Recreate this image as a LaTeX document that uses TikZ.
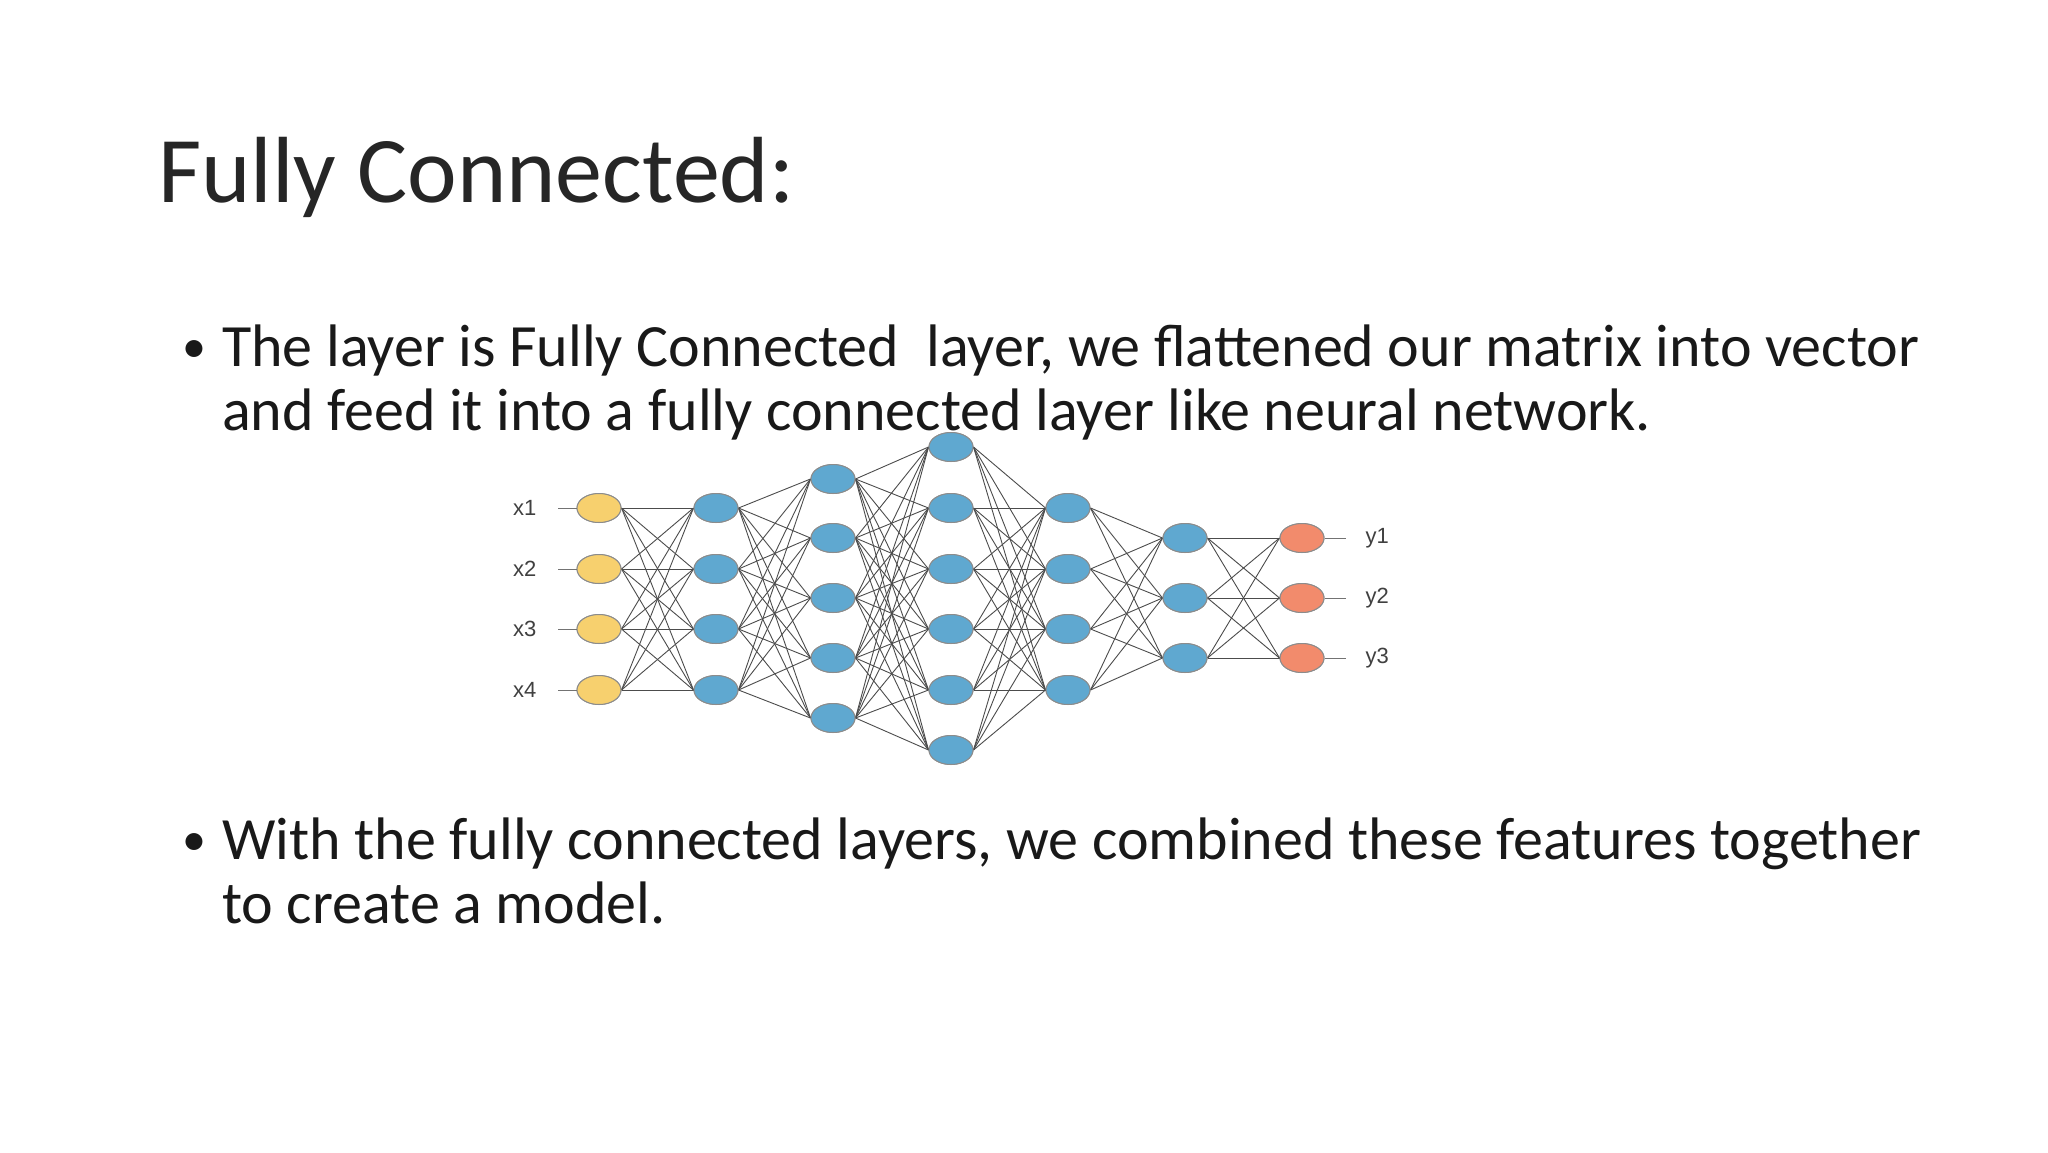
\documentclass[tikz,border=0pt]{standalone}
\usetikzlibrary{shapes.geometric}
\usepackage{fontspec}
\setmainfont{Carlito}
\newfontfamily\lbl{Liberation Sans}
\begin{document}
\begin{tikzpicture}[x=1pt,y=-1pt,
  neuron/.style={ellipse,draw=black!45,line width=1pt,minimum width=44pt,minimum height=29pt,inner sep=0pt},
  inp/.style={neuron,fill=yellowN},
  hid/.style={neuron,fill=blueN},
  outp/.style={neuron,fill=orangeN},
  edge/.style={draw=black!70,line width=0.9pt},
  lab/.style={font=\lbl\fontsize{22}{26}\selectfont,text=black!75},
  body/.style={anchor=base west,inner sep=0pt,font=\fontsize{60}{70}\selectfont,text=black!90}]
\definecolor{yellowN}{HTML}{F7D06E}
\definecolor{blueN}{HTML}{5FA8D0}
\definecolor{orangeN}{HTML}{F28B6C}
\useasboundingbox (0,0) rectangle (2048,1152);
\fill[white] (0,0) rectangle (2048,1152);
\node[anchor=base west,inner sep=0pt,font=\fontsize{94}{104}\selectfont,text=black!85] (title) at (158,202) {Fully Connected:};
\node[body,font=\fontsize{48}{60}\selectfont] (b1) at (182,362) {\textbullet};
\node[body] (t1) at (222,366) {The layer is Fully Connected\ \ layer, we flattened our matrix into vector};
\node[body] (t2) at (222,430) {and feed it into a fully connected layer like neural network.};
\node[body,font=\fontsize{48}{60}\selectfont] (b2) at (182,855) {\textbullet};
\node[body] (t3) at (222,859) {With the fully connected layers, we combined these features together};
\node[body] (t4) at (222,923) {to create a model.};
% layers (placed first as anchors for edges)
\foreach \i/\y in {1/508,2/569,3/629,4/690}{
  \node[inp] (a\i) at (599,\y) {};
  \node[hid] (b\i) at (716,\y) {};
  \node[hid] (e\i) at (1068,\y) {};}
\foreach \i/\y in {1/479,2/538,3/598,4/658,5/718}
  \node[hid] (c\i) at (833,\y) {};
\foreach \i/\y in {1/447,2/508,3/569,4/629,5/690,6/750}
  \node[hid] (d\i) at (951,\y) {};
\foreach \i/\y in {1/538,2/598,3/658}{
  \node[hid] (f\i) at (1185,\y) {};
  \node[outp] (g\i) at (1302,\y) {};}
% edges
\foreach \i in {1,...,4}\foreach \j in {1,...,4} \draw[edge] (a\i.east) -- (b\j.west);
\foreach \i in {1,...,4}\foreach \j in {1,...,5} \draw[edge] (b\i.east) -- (c\j.west);
\foreach \i in {1,...,5}\foreach \j in {1,...,6} \draw[edge] (c\i.east) -- (d\j.west);
\foreach \i in {1,...,6}\foreach \j in {1,...,4} \draw[edge] (d\i.east) -- (e\j.west);
\foreach \i in {1,...,4}\foreach \j in {1,...,3} \draw[edge] (e\i.east) -- (f\j.west);
\foreach \i in {1,...,3}\foreach \j in {1,...,3} \draw[edge] (f\i.east) -- (g\j.west);
% redraw nodes on top of edges
\foreach \i/\y in {1/508,2/569,3/629,4/690}{
  \node[inp] at (599,\y) {};
  \node[hid] at (716,\y) {};
  \node[hid] at (1068,\y) {};
  \node[lab,anchor=east] (x\i) at (540,\y) {x\i};
  \coordinate (xc\i) at (558,\y);
  \draw[edge,black!55] (xc\i) -- (a\i.west);}
\foreach \i/\y in {1/479,2/538,3/598,4/658,5/718}
  \node[hid] at (833,\y) {};
\foreach \i/\y in {1/447,2/508,3/569,4/629,5/690,6/750}
  \node[hid] at (951,\y) {};
\foreach \i/\y in {1/538,2/598,3/658}{
  \node[hid] at (1185,\y) {};
  \node[outp] at (1302,\y) {};
  \node[lab,anchor=west] (y\i) at (1362,\y) {y\i};
  \coordinate (yc\i) at (1346,\y);
  \draw[edge,black!55] (g\i.east) -- (yc\i);}
\end{tikzpicture}
\end{document}
